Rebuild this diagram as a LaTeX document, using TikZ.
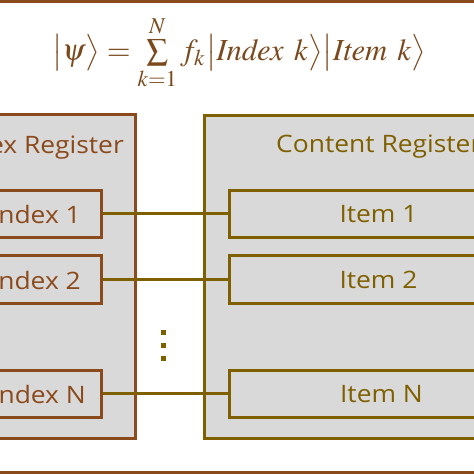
\documentclass[tikz,border=0pt]{standalone}
\usepackage{mathptmx}
\usepackage{fontspec}
\setsansfont{Open Sans}
\usepackage{graphicx}
\newcommand{\widetext}[1]{\scalebox{1.1}[1]{#1}}
\definecolor{rust}{HTML}{8B4A1C}
\definecolor{olive}{HTML}{7F6000}
\definecolor{boxgray}{HTML}{D9D9D9}
\definecolor{eqbrown}{HTML}{7A4A1E}
\begin{document}
\begin{tikzpicture}[x=1pt,y=-1pt,
  lbox/.style={draw=rust,line width=3pt,fill=boxgray},
  rbox/.style={draw=olive,line width=3pt,fill=boxgray},
  ltext/.style={text=rust,font=\sffamily\fontsize{24}{28}\selectfont,inner sep=0pt},
  rtext/.style={text=olive,font=\sffamily\fontsize{24}{28}\selectfont,inner sep=0pt},
  link/.style={draw=olive,line width=3pt},
  dotsq/.style={fill=olive,minimum size=5pt,inner sep=0pt}]
\useasboundingbox (0,0) rectangle (474,474);
\fill[white] (0,0) rectangle (474,474);
\draw[rust,line width=3pt] (0,1.5) -- (474,1.5);
\draw[rust,line width=3pt] (0,472) -- (474,472);
% equation
\node[text=eqbrown,inner sep=0pt] (eq) at (239,53) {\resizebox{374pt}{!}{$\bigl|\psi\bigr\rangle=\sum\limits_{k=1}^{N} f_k\bigl|\mathit{Index}\ k\bigr\rangle\bigl|\mathit{Item}\ k\bigr\rangle$}};
% registers
\node[lbox,minimum width=177pt,minimum height=324pt,anchor=north east] (ireg) at (137,113) {};
\node[rbox,minimum width=300pt,minimum height=323pt,anchor=north west] (creg) at (203,114) {};
\node[ltext,anchor=east] (ititle) at (124,147) {\widetext{Index Register}};
\node[rtext,anchor=west] (ctitle) at (276,147) {\widetext{Content Register}};
% index boxes
\node[lbox,minimum width=143pt,minimum height=47pt,anchor=east] (i1) at (103,213.5) {};
\node[lbox,minimum width=143pt,minimum height=48pt,anchor=east] (i2) at (103,279) {};
\node[lbox,minimum width=143pt,minimum height=47pt,anchor=east] (iN) at (103,393.5) {};
\node[ltext,anchor=east] (t1) at (81,214) {\widetext{Index 1}};
\node[ltext,anchor=east] (t2) at (81,280) {\widetext{Index 2}};
\node[ltext,anchor=east] (tN) at (86,394) {\widetext{Index N}};
% item boxes
\node[rbox,minimum width=280pt,minimum height=47pt,anchor=west] (m1) at (228,213.5) {};
\node[rbox,minimum width=280pt,minimum height=48pt,anchor=west] (m2) at (228,279) {};
\node[rbox,minimum width=280pt,minimum height=47pt,anchor=west] (mN) at (228,393.5) {};
\node[rtext] (u1) at (378.5,214) {\widetext{Item 1}};
\node[rtext] (u2) at (378.5,280) {\widetext{Item 2}};
\node[rtext] (uN) at (381.5,394) {\widetext{Item N}};
% links
\draw[link] (i1.east) -- (m1.west);
\draw[link] (i2.east) -- (m2.west);
\draw[link] (iN.east) -- (mN.west);
% dots
\node[dotsq] (d1) at (163,332) {};
\node[dotsq] (d2) at (163,345) {};
\node[dotsq] (d3) at (163,358) {};
\end{tikzpicture}
\end{document}
